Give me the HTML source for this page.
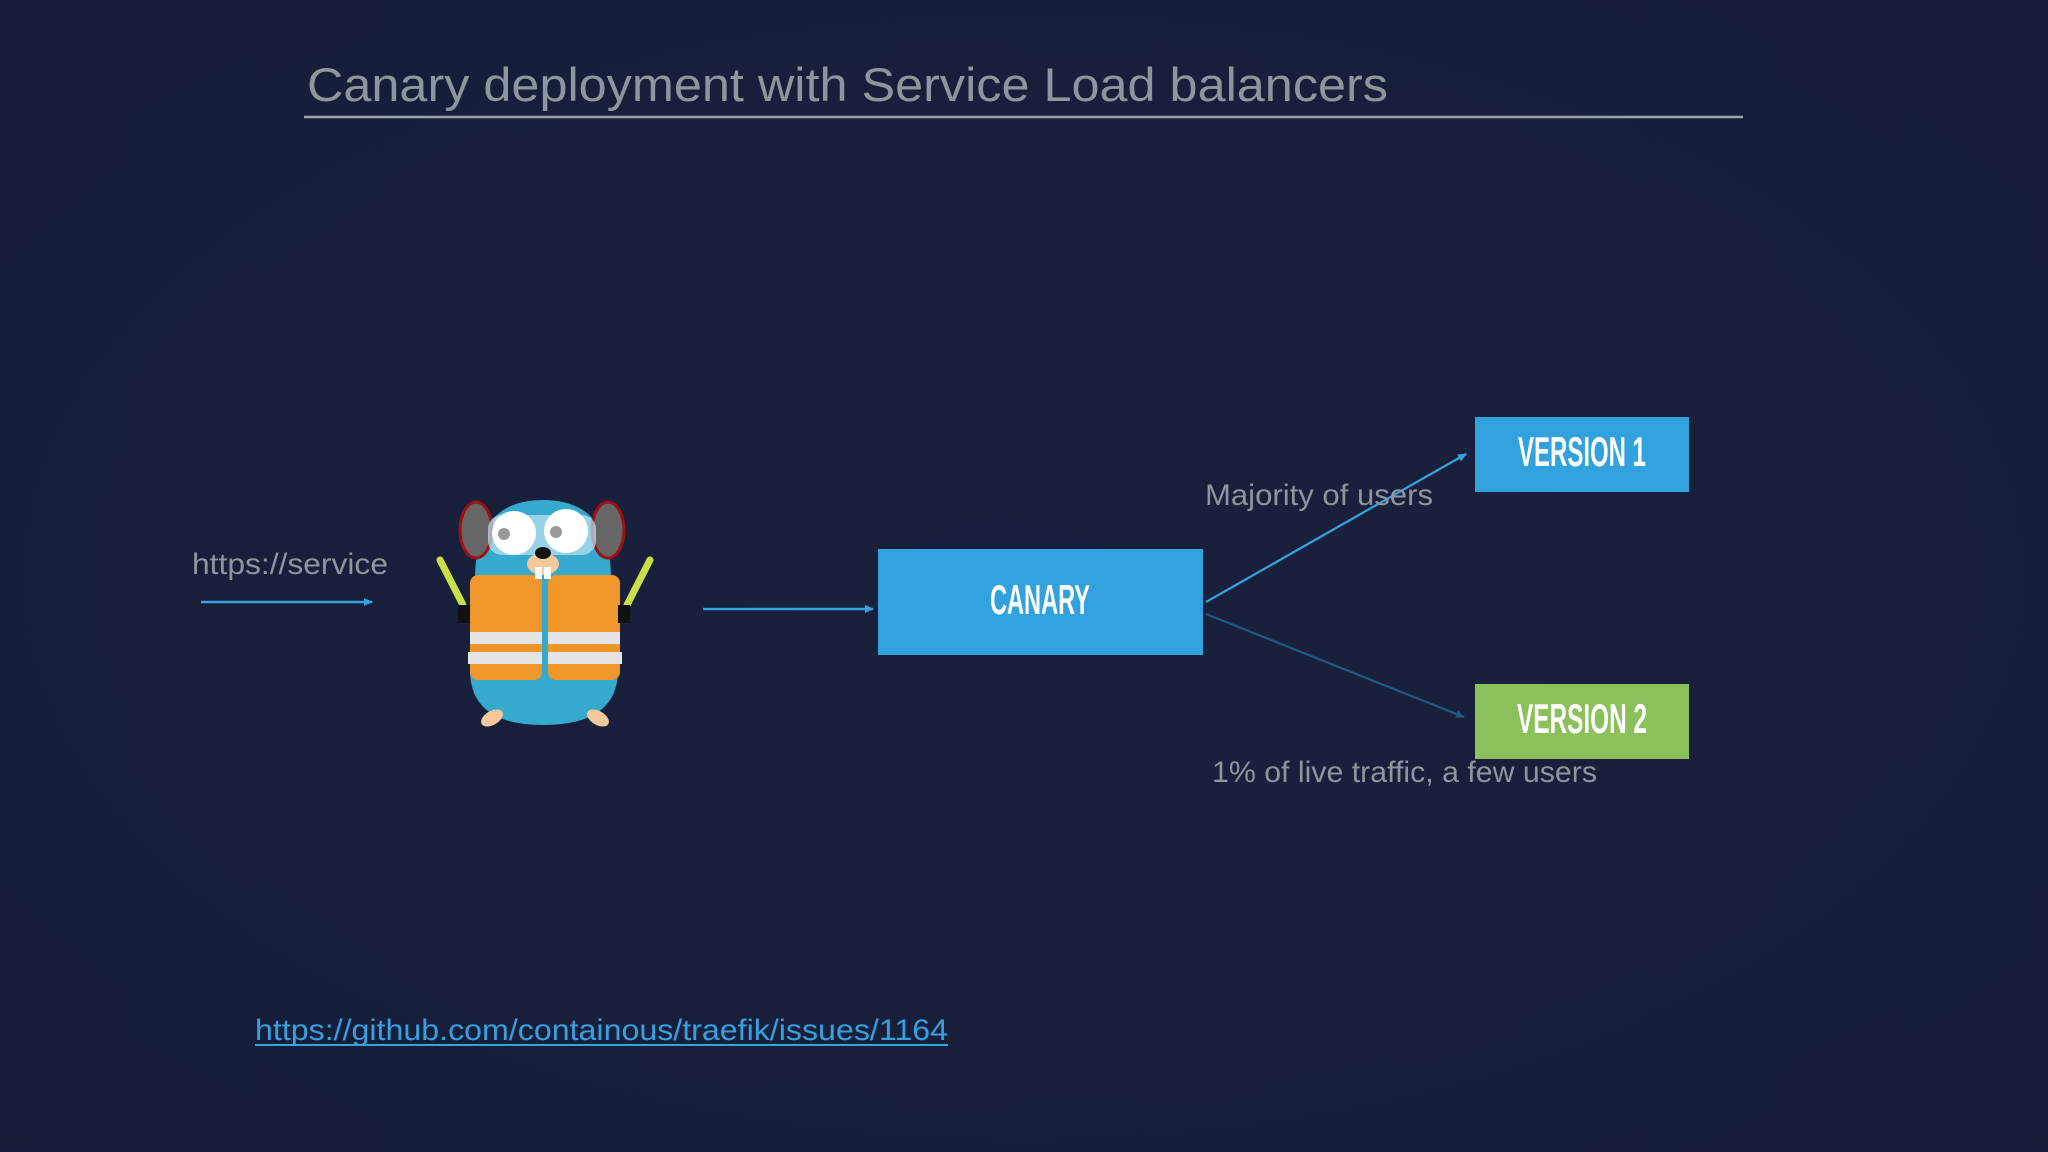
<!DOCTYPE html>
<html><head><meta charset="utf-8"><style>
html,body{margin:0;padding:0;background:#172039;}
svg{display:block}
</style></head><body>
<svg width="2048" height="1152" viewBox="0 0 2048 1152" xmlns="http://www.w3.org/2000/svg">
<defs>
<radialGradient id="bg" cx="0.5" cy="0.5" r="0.8"><stop offset="0" stop-color="#19203d"/><stop offset="1" stop-color="#151e38"/></radialGradient>
<marker id="a1" markerWidth="10" markerHeight="10" refX="8" refY="5" orient="auto" markerUnits="userSpaceOnUse"><path d="M0,1 L9,5 L0,9 z" fill="#35a3dd"/></marker>
<marker id="a2" markerWidth="10" markerHeight="10" refX="8" refY="5" orient="auto" markerUnits="userSpaceOnUse"><path d="M0,1 L9,5 L0,9 z" fill="#1f5a80"/></marker>
</defs>
<rect width="2048" height="1152" fill="url(#bg)"/>
<g font-family="Liberation Sans, sans-serif">
<text x="307" y="101" font-size="47" fill="#8c969c" textLength="1081" lengthAdjust="spacingAndGlyphs">Canary deployment with Service Load balancers</text>
<line x1="304" y1="117" x2="1743" y2="117" stroke="#9aa3ab" stroke-width="2.5"/>

<text x="192" y="574" font-size="30" fill="#8c969c" textLength="196" lengthAdjust="spacingAndGlyphs">https://service</text>
<line x1="201" y1="602" x2="372" y2="602" stroke="#35a3dd" stroke-width="2.5" marker-end="url(#a1)"/>
<line x1="703" y1="609" x2="873" y2="609" stroke="#35a3dd" stroke-width="2.5" marker-end="url(#a1)"/>

<rect x="878" y="549" width="325" height="106" fill="#31a2dd"/>
<text x="1040" y="614" font-size="42" font-weight="bold" fill="#fff" text-anchor="middle" textLength="100" lengthAdjust="spacingAndGlyphs">CANARY</text>

<rect x="1475" y="417" width="214" height="75" fill="#31a2dd"/>
<text x="1582" y="466" font-size="42" font-weight="bold" fill="#fff" text-anchor="middle" textLength="128" lengthAdjust="spacingAndGlyphs">VERSION 1</text>
<rect x="1475" y="684" width="214" height="75" fill="#8bc05a"/>
<text x="1582" y="733" font-size="42" font-weight="bold" fill="#fff" text-anchor="middle" textLength="130" lengthAdjust="spacingAndGlyphs">VERSION 2</text>

<line x1="1206" y1="602" x2="1466" y2="454" stroke="#35a3dd" stroke-width="2.2" marker-end="url(#a1)"/>
<line x1="1206" y1="614" x2="1464" y2="717" stroke="#1f5a80" stroke-width="2.2" marker-end="url(#a2)"/>

<text x="1205" y="505" font-size="30" fill="#8c969c" textLength="228" lengthAdjust="spacingAndGlyphs">Majority of users</text>
<text x="1212" y="782" font-size="30" fill="#8c969c" textLength="385" lengthAdjust="spacingAndGlyphs">1% of live traffic, a few users</text>

<text x="255" y="1040" font-size="30" fill="#38a0de" textLength="693" lengthAdjust="spacingAndGlyphs">https://github.com/containous/traefik/issues/1164</text>
<line x1="255" y1="1045" x2="948" y2="1045" stroke="#38a0de" stroke-width="2"/>
</g>

<!-- gopher -->
<g transform="translate(400,460)">
<path d="M78,88 Q140,10 208,88" fill="none" stroke="#333" stroke-width="4"/>
<line x1="40" y1="100" x2="63" y2="145" stroke="#c8e04a" stroke-width="7" stroke-linecap="round"/>
<line x1="250" y1="100" x2="227" y2="145" stroke="#c8e04a" stroke-width="7" stroke-linecap="round"/>
<path d="M75,120 Q75,40 143,40 Q211,40 211,120 L218,210 Q218,265 143,265 Q70,265 70,210 Z" fill="#36a9cf"/>
<rect x="70" y="115" width="72" height="105" rx="8" fill="#f0972b"/>
<rect x="148" y="115" width="72" height="105" rx="8" fill="#f0972b"/>
<rect x="70" y="172" width="72" height="12" fill="#e4e4e4"/>
<rect x="148" y="172" width="72" height="12" fill="#e4e4e4"/>
<rect x="68" y="192" width="74" height="12" fill="#e4e4e4"/>
<rect x="148" y="192" width="74" height="12" fill="#e4e4e4"/>
<ellipse cx="76" cy="70" rx="16" ry="28" fill="#666" stroke="#a01010" stroke-width="3"/>
<ellipse cx="208" cy="70" rx="16" ry="28" fill="#666" stroke="#a01010" stroke-width="3"/>
<rect x="88" y="55" width="108" height="40" rx="14" fill="#bfe6f3" opacity="0.7"/>
<circle cx="114" cy="73" r="22" fill="#fff"/>
<circle cx="166" cy="71" r="22" fill="#fff"/>
<circle cx="104" cy="74" r="6" fill="#999"/>
<circle cx="156" cy="72" r="6" fill="#999"/>
<ellipse cx="143" cy="104" rx="16" ry="11" fill="#f5c99c"/>
<ellipse cx="143" cy="93" rx="8" ry="6" fill="#111"/>
<rect x="135" y="107" width="7" height="12" fill="#fff"/>
<rect x="144" y="107" width="7" height="12" fill="#fff"/>
<ellipse cx="92" cy="258" rx="12" ry="7" fill="#f5c99c" transform="rotate(-30 92 258)"/>
<ellipse cx="198" cy="258" rx="12" ry="7" fill="#f5c99c" transform="rotate(30 198 258)"/>
<rect x="58" y="145" width="12" height="18" fill="#111"/>
<rect x="218" y="145" width="12" height="18" fill="#111"/>
</g>
</svg>
</body></html>
